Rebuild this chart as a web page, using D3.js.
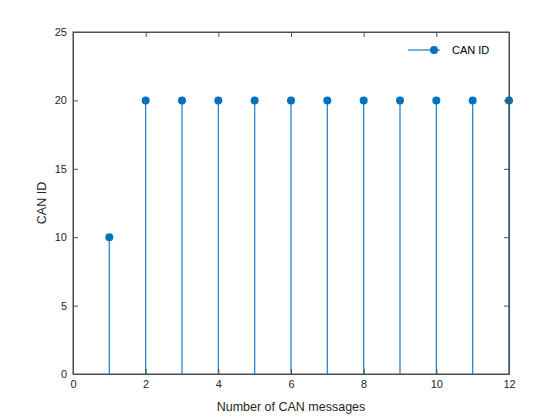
<!DOCTYPE html>
<html><head><meta charset="utf-8">
<script src="https://cdn.jsdelivr.net/npm/d3@7"></script>
<style>body{margin:0;background:#fff}</style>
</head><body>
<script>
// data
const msgIndex = [1, 2, 3, 4, 5, 6, 7, 8, 9, 10, 11, 12];
const canIds = [10, 20, 20, 20, 20, 20, 20, 20, 20, 20, 20, 20];
const xTicks = [0, 2, 4, 6, 8, 10, 12];
const yTicks = [0, 5, 10, 15, 20, 25];

const W = 560, H = 420;
const m = {left: 73, right: 51, top: 32, bottom: 46};
const col = '#0072BD', axc = '#4d4d4d';
const font = 'Liberation Sans, Arial, sans-serif';

const svg = d3.select('body').append('svg').attr('width', W).attr('height', H);

const x = d3.scaleLinear().domain([0, 12]).range([m.left, W - m.right]);
const y = d3.scaleLinear().domain([0, 25]).range([H - m.bottom, m.top]);

// axes box
svg.append('rect')
  .attr('x', m.left).attr('y', m.top)
  .attr('width', x(12) - x(0)).attr('height', y(0) - y(25))
  .attr('fill', 'none').attr('stroke', axc).attr('stroke-width', 1);

// stems
svg.selectAll('.stem').data(msgIndex).enter().append('line')
  .attr('x1', d => x(d)).attr('x2', d => x(d))
  .attr('y1', y(0)).attr('y2', (d, i) => y(canIds[i]))
  .attr('stroke', '#2a86cc').attr('stroke-width', 1.3);
svg.selectAll('.dot').data(msgIndex).enter().append('circle')
  .attr('cx', d => x(d)).attr('cy', (d, i) => y(canIds[i]))
  .attr('r', 4).attr('fill', col);

// axes
svg.append('g').attr('transform', `translate(0,${y(0)})`)
  .call(d3.axisBottom(x).tickValues(xTicks).tickSizeInner(-5).tickSizeOuter(0).tickPadding(6));
svg.append('g').attr('transform', `translate(${m.left},0)`)
  .call(d3.axisLeft(y).tickValues(yTicks).tickSizeInner(-5).tickSizeOuter(0).tickPadding(6));
svg.append('g').attr('transform', `translate(0,${m.top})`)
  .call(d3.axisTop(x).tickValues(xTicks).tickSizeInner(-5).tickSizeOuter(0).tickFormat(''));
svg.append('g').attr('transform', `translate(${W - m.right},0)`)
  .call(d3.axisRight(y).tickValues(yTicks).tickSizeInner(-5).tickSizeOuter(0).tickFormat(''));
svg.selectAll('.domain').attr('stroke', axc).attr('stroke-width', 1);
svg.selectAll('.tick line').attr('stroke', axc).attr('stroke-width', 1);
svg.selectAll('.tick text').attr('fill', '#262626').style('font-family', font).style('font-size', '11px');

// labels
svg.append('text').attr('x', (x(0) + x(12)) / 2).attr('y', 411)
  .attr('text-anchor', 'middle').attr('fill', '#262626')
  .style('font-family', font).style('font-size', '12.5px').text('Number of CAN messages');
svg.append('text').attr('transform', `translate(46,${(y(0) + y(25)) / 2}) rotate(-90)`)
  .attr('text-anchor', 'middle').attr('fill', '#262626')
  .style('font-family', font).style('font-size', '12.5px').text('CAN ID');

// legend
const lg = svg.append('g');
lg.append('line').attr('x1', 408).attr('x2', 440).attr('y1', 50).attr('y2', 50)
  .attr('stroke', '#2a86cc').attr('stroke-width', 1.3);
lg.append('circle').attr('cx', 434).attr('cy', 50).attr('r', 4).attr('fill', col);
lg.append('text').attr('x', 452).attr('y', 54).attr('fill', '#000')
  .style('font-family', font).style('font-size', '11px').text('CAN ID');
</script>
</body></html>
